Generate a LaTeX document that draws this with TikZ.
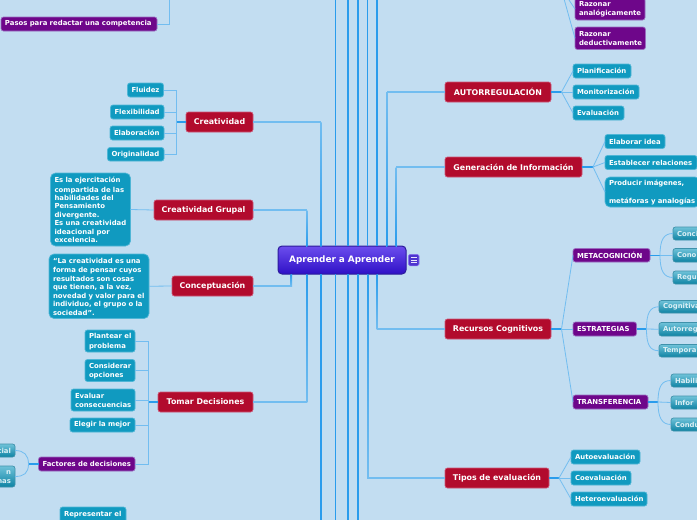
\documentclass[tikz,border=0pt]{standalone}
\usepackage{fontspec}
\setmainfont{DejaVu Sans}
\definecolor{bgc}{HTML}{C2DDF1}
\definecolor{tealc}{HTML}{109AC0}
\definecolor{tealb}{HTML}{4FB6D6}
\definecolor{redc}{HTML}{B20B2D}
\definecolor{redb}{HTML}{CC5575}
\definecolor{purc}{HTML}{6E068A}
\definecolor{purb}{HTML}{9A6CC0}
\definecolor{lnl}{HTML}{72BDF0}
\definecolor{lnd}{HTML}{2A9CEC}
\definecolor{rootb}{HTML}{2C1C9C}
\definecolor{rootfill1}{HTML}{6C4EEE}
\definecolor{rootfill2}{HTML}{2F10C6}
\tikzset{
  boxat/.code n args={4}{%
    \pgfmathsetmacro\bw{#3-#1}\pgfmathsetmacro\bh{#4-#2}\pgfmathsetmacro\tw{#3-#1-8}%
    \pgfkeysalso{/tikz/at={(#1,#2)},/tikz/minimum width=\bw pt,/tikz/minimum height=\bh pt,/tikz/text width=\tw pt}},
  basebox/.style={anchor=north west,rounded corners=2.5pt,inner xsep=4pt,inner ysep=0pt,outer sep=0pt,
    line width=.7pt,text=white,align=left,font=\fontsize{6.9}{8.43}\selectfont\bfseries,
    execute at begin node={\vspace*{1pt}},execute at end node={\par\vspace*{-1pt}}},
  leaf/.style={basebox,fill=tealc,draw=tealb},
  bigleaf/.style={leaf,rounded corners=5pt},
  purp/.style={basebox,fill=purc,draw=purb},
  branch/.style={basebox,fill=redc,draw=redb,inner xsep=4pt,align=center,font=\fontsize{7.9}{9.5}\selectfont\bfseries},
  fade/.style={basebox,top color=tealc!60!white,bottom color=tealc!85!black,draw=tealb!80!black,text=white!85!tealc},
  fadeL/.style={fade,align=right},
  rootbox/.style={basebox,top color=rootfill1,bottom color=rootfill2,draw=rootb,rounded corners=4pt,line width=1pt,align=center,font=\fontsize{8.9}{10}\selectfont\bfseries},
  iconbox/.style={anchor=north west,rounded corners=1.5pt,inner sep=0pt,outer sep=0pt,minimum width=10.5pt,minimum height=11.5pt,fill=rootfill2!85!white,draw=rootfill1!80!white,line width=.6pt},
  ln/.style={draw=lnl,line width=.8pt},
  stub/.style={draw=lnd,line width=1.2pt},
  mainln/.style={draw=lnd,line width=1.5pt},
  armln/.style={draw=lnl,line width=1.1pt},
  upfade/.style={top color=lnl,bottom color=lnd,draw=none},
  downfade/.style={top color=lnd,bottom color=lnl,draw=none},
}
\begin{document}
\begin{tikzpicture}[x=1pt,y=-1pt]
\path[use as bounding box] (0,0) rectangle (697,520);
\clip (0,0) rectangle (697,520);
\fill[bgc] (0,0) rectangle (697,520);
% root
\node[rootbox,boxat={278}{246}{406}{274}] (root) {Aprender a Aprender};
\node[iconbox,at={(408.5,254.3)}] (icon) {};
\foreach \d in {-2.4,0,2.4}{\draw[white!85!rootfill1,line width=.8pt] ([xshift=-3pt,yshift=\d pt]icon.center) -- ([xshift=3pt,yshift=\d pt]icon.center);}
% left branches
\node[purp,boxat={1}{17}{157}{31}] (pasos) {\mbox{Pasos para redactar una competencia}};
\node[branch,boxat={186}{112}{253}{132}] (creat) {Creatividad};
\node[leaf,boxat={127.5}{83}{163.5}{97}] (fluidez) {Fluidez};
\node[leaf,boxat={110.5}{105}{164}{119}] (flex) {Flexibilidad};
\node[leaf,boxat={110}{126}{164}{140}] (elab) {Elaboración};
\node[leaf,boxat={107.5}{147.5}{164}{161}] (orig) {Originalidad};
\node[branch,boxat={154}{200}{253}{220}] (grupal) {Creatividad Grupal};
\node[bigleaf,boxat={50.5}{173}{130.5}{246}] (gtext) {Es la ejercitación\\compartida de las\\habilidades del\\Pensamiento\\divergente.\\Es una creatividad\\ideacional por\\excelencia.};
\node[branch,boxat={172}{276}{253}{296}] (concep) {Conceptuación};
\node[bigleaf,boxat={49}{254}{149}{318.5}] (ctext) {“La creatividad es una\\forma de pensar cuyos\\resultados son cosas\\que tienen, a la vez,\\novedad y valor para el\\individuo, el grupo o la\\sociedad”.};
\node[branch,boxat={158}{392}{253}{412}] (tomar) {Tomar Decisiones};
\node[leaf,boxat={85}{330}{135}{352}] (plant) {\mbox{Plantear el}\\problema};
\node[leaf,boxat={85}{359.5}{135}{381.5}] (consid) {Considerar\\opciones};
\node[leaf,boxat={71}{389}{135}{411}] (evalu) {Evaluar\\consecuencias};
\node[leaf,boxat={70}{418}{135}{432}] (elegir) {\mbox{Elegir la mejor}};
\node[purp,boxat={38.5}{457}{135}{471}] (factor) {\mbox{Factores de decisiones}};
\node[fadeL,boxat={-20}{444}{15}{457}] (socl) {cial};
\node[fadeL,boxat={-20}{466}{15}{487}] (nas) {n\hspace*{6pt}\\nas};
\node[leaf,boxat={60}{507}{126}{530}] (repres) {\mbox{Representar el}\\\mbox{}};
% right branches
\node[purp,boxat={575}{-2}{645}{20}] (razana) {Razonar\\analógicamente};
\node[purp,boxat={575}{27}{645.5}{49.5}] (razded) {Razonar\\deductivamente};
\node[branch,boxat={445}{82}{551}{102}] (autor) {AUTORREGULACIÓN};
\node[leaf,boxat={573}{64}{631}{78}] (plan) {Planificación};
\node[leaf,boxat={573}{85}{639}{99}] (monit) {Monitorización};
\node[leaf,boxat={573}{106}{624}{120}] (evalc) {Evaluación};
\node[branch,boxat={445}{157}{582}{177}] (gener) {Generación de Información};
\node[leaf,boxat={605}{134.5}{665}{148.5}] (idea) {\mbox{Elaborar idea}};
\node[leaf,boxat={605}{155.5}{697}{169.5}] (relac) {\mbox{Establecer relaciones}};
\node[bigleaf,boxat={605}{177}{700}{207}] (produ) {\mbox{Producir imágenes,}\\[8.4pt]\mbox{metáforas y analogías}};
\node[branch,boxat={445}{319}{551}{339}] (recur) {Recursos Cognitivos};
\node[purp,boxat={573}{248.5}{650}{262}] (meta) {METACOGNICIÓN};
\node[purp,boxat={573}{322}{636.5}{336}] (estra) {ESTRATEGIAS};
\node[purp,boxat={573}{395}{648}{409}] (trans) {TRANSFERENCIA};
\node[fade,boxat={673}{227}{720}{240}] (conci) {Conci};
\node[fade,boxat={673}{248.5}{720}{262}] (cono) {Cono};
\node[fade,boxat={673}{271}{720}{284}] (regu) {Regu};
\node[fade,boxat={659}{300.5}{720}{313}] (cogni) {Cognitiva};
\node[fade,boxat={659}{322.5}{720}{336}] (autog) {Autorreg};
\node[fade,boxat={659}{344.5}{720}{357}] (tempo) {Tempora};
\node[fade,boxat={671}{374}{720}{387}] (habil) {Habili};
\node[fade,boxat={671}{396}{720}{409}] (infor) {Infor};
\node[fade,boxat={671}{418}{720}{431}] (condu) {Condu};
\node[branch,boxat={445}{468}{549}{488}] (tipos) {Tipos de evaluación};
\node[leaf,boxat={571}{450}{640}{464}] (autoe) {Autoevaluación};
\node[leaf,boxat={571}{471}{631}{485}] (coev) {Coevaluación};
\node[leaf,boxat={571}{492}{647}{506}] (heter) {Heteroevaluación};
% free ends
\coordinate (fantop) at (561,-12);
\coordinate (topa) at (335.7,-2);
\coordinate (topb) at (348.2,-2);
\coordinate (topc) at (358,-2);
\coordinate (topd) at (367.7,-2);
\coordinate (tope) at (377.2,-2);
\coordinate (bota) at (321,522);
\coordinate (botb) at (335.7,522);
\coordinate (botc) at (348.2,522);
\coordinate (botd) at (358,522);
\coordinate (pasoup) at (169.7,-2);
% root trunks
\foreach \t in {topa,topb,topc,topd,tope}{\path[mainln] (\t) -- (\t |- root.north);}
\foreach \t in {bota,botb,botc,botd}{\path[mainln] (\t) -- (\t |- root.south);}
% arms: horizontal part, then a trunk that darkens towards the root
\foreach \n/\a/\s in {creat/east/-21, grupal/east/-35.3, autor/west/44.7, gener/west/54.2}{
  \coordinate (tr) at ([xshift=\s pt]root.north);
  \path[armln] (\n.\a) -- (\n.\a -| tr);
  \shade[upfade] ([xshift=-.7pt]\n.\a -| tr) rectangle ([xshift=.7pt]tr);
}
\foreach \n/\a/\s in {concep/east/-50.7, tomar/east/-35.3, recur/west/35.2, tipos/west/25.7}{
  \coordinate (tr) at ([xshift=\s pt]root.south);
  \path[armln] (\n.\a) -- (\n.\a -| tr);
  \shade[downfade] ([xshift=-.7pt]tr) rectangle ([xshift=.7pt]\n.\a -| tr);
}
% pasos
\path[ln] (pasos.east) -| (pasoup);
% creatividad
\path[stub] (creat.west) -- ([xshift=-10pt]creat.west);
\foreach \c in {fluidez,flex,elab,orig}{\path[ln] (\c.east) -| ([xshift=-9.7pt]creat.west);}
\path[ln] (gtext.east) -- (grupal.west);
\path[ln] (ctext.east) -- (concep.west);
% tomar
\path[stub] (tomar.west) -- ([xshift=-9.7pt]tomar.west);
\foreach \c in {plant,consid,evalu,elegir,factor}{\path[ln] (\c.east) -| ([xshift=-9.7pt]tomar.west);}
% factores
\path[stub] (factor.west) -- ([xshift=-10pt]factor.west);
\path[ln] ([xshift=-10pt]factor.west) .. controls +(0,-9) and +(9,0) .. (socl.east);
\path[ln] ([xshift=-10pt]factor.west) .. controls +(0,9) and +(9,0) .. (nas.east);
% right fans
\path[ln] (fantop) -- (razana.west);
\path[ln] (fantop) -- (razded.west);
\path[stub] (autor.east) -- ([xshift=10.5pt]autor.east);
\foreach \c in {plan,monit,evalc}{\path[ln] ([xshift=10.5pt]autor.east) -- (\c.west);}
\path[stub] (gener.east) -- ([xshift=11pt]gener.east);
\foreach \c in {idea,relac,produ}{\path[ln] ([xshift=11pt]gener.east) -- (\c.west);}
\path[stub] (recur.east) -- ([xshift=10.5pt]recur.east);
\foreach \c in {meta,estra,trans}{\path[ln] ([xshift=10.5pt]recur.east) -- (\c.west);}
\path[stub] (tipos.east) -- ([xshift=10pt]tipos.east);
\foreach \c in {autoe,coev,heter}{\path[ln] ([xshift=10pt]tipos.east) -- (\c.west);}
% curved
\path[stub] (meta.east) -- ([xshift=10pt]meta.east);
\path[ln] ([xshift=10pt]meta.east) .. controls +(0,-16) and +(-9,0) .. (conci.west);
\path[ln] ([xshift=10pt]meta.east) -- (cono.west);
\path[ln] ([xshift=10pt]meta.east) .. controls +(0,16) and +(-9,0) .. (regu.west);
\path[stub] (estra.east) -- ([xshift=10pt]estra.east);
\path[ln] ([xshift=10pt]estra.east) .. controls +(0,-16) and +(-9,0) .. (cogni.west);
\path[ln] ([xshift=10pt]estra.east) -- (autog.west);
\path[ln] ([xshift=10pt]estra.east) .. controls +(0,16) and +(-9,0) .. (tempo.west);
\path[stub] (trans.east) -- ([xshift=10pt]trans.east);
\path[ln] ([xshift=10pt]trans.east) .. controls +(0,-16) and +(-9,0) .. (habil.west);
\path[ln] ([xshift=10pt]trans.east) -- (infor.west);
\path[ln] ([xshift=10pt]trans.east) .. controls +(0,16) and +(-9,0) .. (condu.west);
\end{tikzpicture}
\end{document}
